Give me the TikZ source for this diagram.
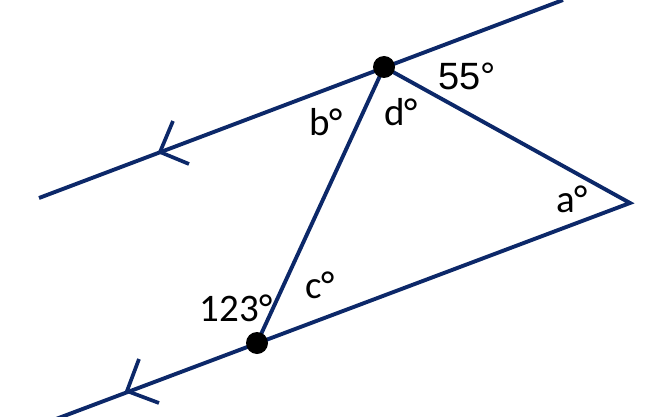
\documentclass[tikz,border=0pt]{standalone}
\usepackage{fontspec}
\newfontfamily\arialf{Liberation Sans}
\newfontfamily\calf{Carlito}
\definecolor{navy}{RGB}{12,40,105}
\tikzset{
  geoline/.style={draw=navy, line width=3.9pt},
  chev/.style={draw=navy, line width=3.7pt},
  vdot/.style={circle, fill=black, inner sep=0pt, minimum size=22pt},
  lbl/.style={inner sep=0pt, font=\calf\fontsize{39}{42}\selectfont},
  lblA/.style={inner sep=0pt, font=\arialf\fontsize{38}{40}\selectfont}
}
\begin{document}
\begin{tikzpicture}[x=1pt,y=-1pt]
\useasboundingbox (0,0) rectangle (647,417);
% points
\coordinate (UL) at (39,198);
\coordinate (UR) at (563,0);
\coordinate (LL) at (56,419);
\coordinate (A) at (630,203);
\coordinate (P) at (384,67);
\coordinate (Q) at (257,343);
% chevrons
\coordinate (V1) at (160,152);
\coordinate (V1a) at (173,121);
\coordinate (V1b) at (189,164);
\coordinate (V2) at (127,391);
\coordinate (V2a) at (139,359);
\coordinate (V2b) at (159,403);
% lines
\draw[geoline] (UL) -- (UR);
\draw[geoline] (LL) -- (A) -- (P) -- (Q);
\draw[chev] (V1a) -- (V1) -- (V1b);
\draw[chev] (V2a) -- (V2) -- (V2b);
% dots
\node[vdot] (Pd) at (P) {};
\node[vdot] (Qd) at (Q) {};
% labels
\node[lblA] (l55) at (467,76) {55°};
\node[lbl] (ld) at (401,112) {d°};
\node[lbl] (lb) at (326,122) {b°};
\node[lbl] (la) at (572,199) {a°};
\node[lbl] (l123) at (236,308) {123°};
\node[lbl] (lc) at (320,285) {c°};
\end{tikzpicture}
\end{document}
